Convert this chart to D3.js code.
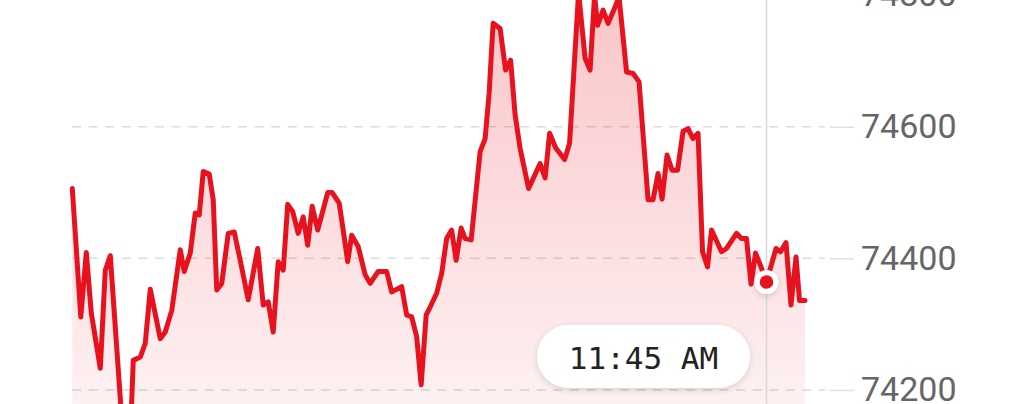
<!DOCTYPE html>
<html lang="en">
<head>
<meta charset="UTF-8">
<title>Intraday price</title>
<script src="https://d3js.org/d3.v7.min.js"></script>
<style>
  html, body { margin: 0; padding: 0; background: #fff; overflow: hidden; }
</style>
</head>
<body>
<script>
    // minutes after 09:00
    var times = [26.1, 27.8, 28.9, 29.9, 31.7, 32.7, 33.7, 35.9, 37.9, 38.3, 39.7, 40.7, 41.7, 43.7, 44.7,
        46.0, 47.7, 48.5, 49.7, 50.7, 51.5, 52.3, 53.5, 54.3, 55.0, 56.0, 57.3, 58.5, 59.7, 61.3,
        63.2, 64.3, 65.3, 66.3, 67.3, 68.3, 69.2, 70.2, 71.3, 72.3, 73.2, 74.1, 75.2, 77.2, 78.1,
        79.5, 80.3, 81.2, 82.0, 83.3, 84.7, 85.7, 87.3, 89.0, 90.0, 92.0, 93.0, 94.0, 95.0, 95.9,
        96.9, 97.7, 99.0, 100.0, 101.0, 102.0, 102.9, 103.9, 104.7, 105.9, 107.7, 108.7, 109.5, 110.3, 111.7,
        112.8, 113.8, 114.7, 115.7, 117.4, 119.7, 120.7, 121.6, 122.8, 124.6, 125.6, 127.4, 128.7, 129.7,
        130.6, 131.2, 132.3, 133.3, 134.7, 135.5, 137.0, 138.3, 139.5, 141.3, 142.3, 143.3, 144.1, 145.1,
        146.1, 147.2, 148.3, 149.3, 150.3, 151.3, 152.2, 153.2, 154.0, 156.0, 157.0, 159.0, 160.0, 161.0,
        161.9, 162.8, 163.9, 165.0, 166.9, 167.8, 168.9, 169.9, 170.9, 171.6, 172.7];

    var prices = [74506, 74311, 74409, 74317, 74233, 74382, 74404, 74166, 74166, 74245, 74250, 74271, 74353, 74278, 74288,
        74321, 74413, 74380, 74408, 74469, 74466, 74532, 74528, 74489, 74352, 74362, 74438, 74440, 74397, 74337,
        74415, 74329, 74334, 74288, 74395, 74382, 74482, 74471, 74438, 74463, 74420, 74479, 74443, 74500, 74500,
        74484, 74443, 74395, 74435, 74418, 74375, 74362, 74380, 74380, 74349, 74357, 74314, 74311, 74281, 74208,
        74314, 74326, 74347, 74377, 74430, 74443, 74397, 74446, 74430, 74428, 74562, 74582, 74651, 74757, 74749,
        74686, 74701, 74618, 74567, 74506, 74544, 74522, 74590, 74568, 74550, 74575, 74804, 74704, 74686,
        74800, 74754, 74777, 74757, 74782, 74797, 74683, 74681, 74668, 74489, 74489, 74529, 74490, 74557,
        74534, 74534, 74593, 74597, 74582, 74590, 74410, 74387, 74443, 74410, 74415, 74438, 74430, 74430,
        74361, 74408, 74387, 74364, 74415, 74410, 74424, 74329, 74402, 74336, 74336];

    var tickValues = [74200, 74400, 74600, 74800];
    var selectedTime = 165.0; // 11:45 AM

    var width = 1012, height = 404;
    var red = "#e8121f";

    var data = times.map(function (t, i) { return { t: t, v: prices[i] }; });

    var x = d3.scaleLinear().domain([26.1, 172.7]).range([72.3, 805]);
    var y = d3.scaleLinear().domain([74200, 74600]).range([390, 126.7]);

    var svg = d3.select("body").append("svg")
        .attr("width", width)
        .attr("height", height)
        .style("font-family", "Roboto, sans-serif");

    var defs = svg.append("defs");
    var grad = defs.append("linearGradient")
        .attr("id", "areaFill")
        .attr("gradientUnits", "userSpaceOnUse")
        .attr("x1", 0).attr("y1", 0).attr("x2", 0).attr("y2", height);
    grad.append("stop").attr("offset", "0%").attr("stop-color", red).attr("stop-opacity", 0.24);
    grad.append("stop").attr("offset", "100%").attr("stop-color", red).attr("stop-opacity", 0.06);

    var shadow = defs.append("filter").attr("id", "shadow")
        .attr("x", "-20%").attr("y", "-40%").attr("width", "140%").attr("height", "180%");
    shadow.append("feDropShadow").attr("dx", 0).attr("dy", 2)
        .attr("stdDeviation", 3).attr("flood-color", "#000").attr("flood-opacity", 0.15);

    // grid lines
    svg.append("g").selectAll("line")
        .data(tickValues)
        .enter().append("line")
        .attr("x1", 72).attr("x2", 825)
        .attr("y1", function (d) { return y(d); })
        .attr("y2", function (d) { return y(d); })
        .attr("stroke", "#dcdcdc")
        .attr("stroke-width", 1.5)
        .attr("stroke-dasharray", "9 7.6");

    // right axis
    var axis = svg.append("g")
        .attr("transform", "translate(830,0)")
        .call(d3.axisRight(y).tickValues(tickValues).tickSize(24).tickPadding(7).tickFormat(d3.format("d")));
    axis.select(".domain").remove();
    axis.selectAll(".tick line").attr("stroke", "#e0e0e0").attr("stroke-width", 1.5);
    axis.selectAll(".tick text")
        .attr("fill", "#666")
        .style("font-size", "34px")
        .style("font-family", "Roboto, sans-serif");

    // area + line
    var area = d3.area()
        .x(function (d) { return x(d.t); })
        .y0(height)
        .y1(function (d) { return y(d.v); });

    var line = d3.line()
        .x(function (d) { return x(d.t); })
        .y(function (d) { return y(d.v); });

    svg.append("path")
        .datum(data)
        .attr("d", area)
        .attr("fill", "url(#areaFill)");

    // crosshair
    svg.append("line")
        .attr("x1", x(selectedTime)).attr("x2", x(selectedTime))
        .attr("y1", 0).attr("y2", height)
        .attr("stroke", "#d8d8d8")
        .attr("stroke-width", 1.5);

    svg.append("path")
        .datum(data)
        .attr("d", line)
        .attr("fill", "none")
        .attr("stroke", red)
        .attr("stroke-width", 5)
        .attr("stroke-linejoin", "round")
        .attr("stroke-linecap", "round");

    // selected point
    var sel = data.filter(function (d) { return d.t === selectedTime; })[0];
    svg.append("circle")
        .attr("cx", x(sel.t)).attr("cy", y(sel.v))
        .attr("r", 12)
        .attr("fill", "#fff")
        .attr("filter", "url(#shadow)");
    svg.append("circle")
        .attr("cx", x(sel.t)).attr("cy", y(sel.v))
        .attr("r", 6.8)
        .attr("fill", red);

    // tooltip pill
    var h = Math.floor(selectedTime / 60) + 9, m = Math.round(selectedTime % 60);
    var label = (h > 12 ? h - 12 : h) + ":" + (m < 10 ? "0" + m : m) + " " + (h >= 12 ? "PM" : "AM");

    var tip = svg.append("g").attr("transform", "translate(537,325)");
    tip.append("rect")
        .attr("width", 213).attr("height", 63)
        .attr("rx", 31.5).attr("ry", 31.5)
        .attr("fill", "#fff")
        .attr("filter", "url(#shadow)");
    tip.append("text")
        .attr("x", 106.5).attr("y", 33)
        .attr("text-anchor", "middle")
        .attr("dominant-baseline", "central")
        .attr("fill", "#222")
        .style("font-family", "'DejaVu Sans Mono', monospace")
        .style("font-size", "31px")
        .text(label);
</script>
</body>
</html>
